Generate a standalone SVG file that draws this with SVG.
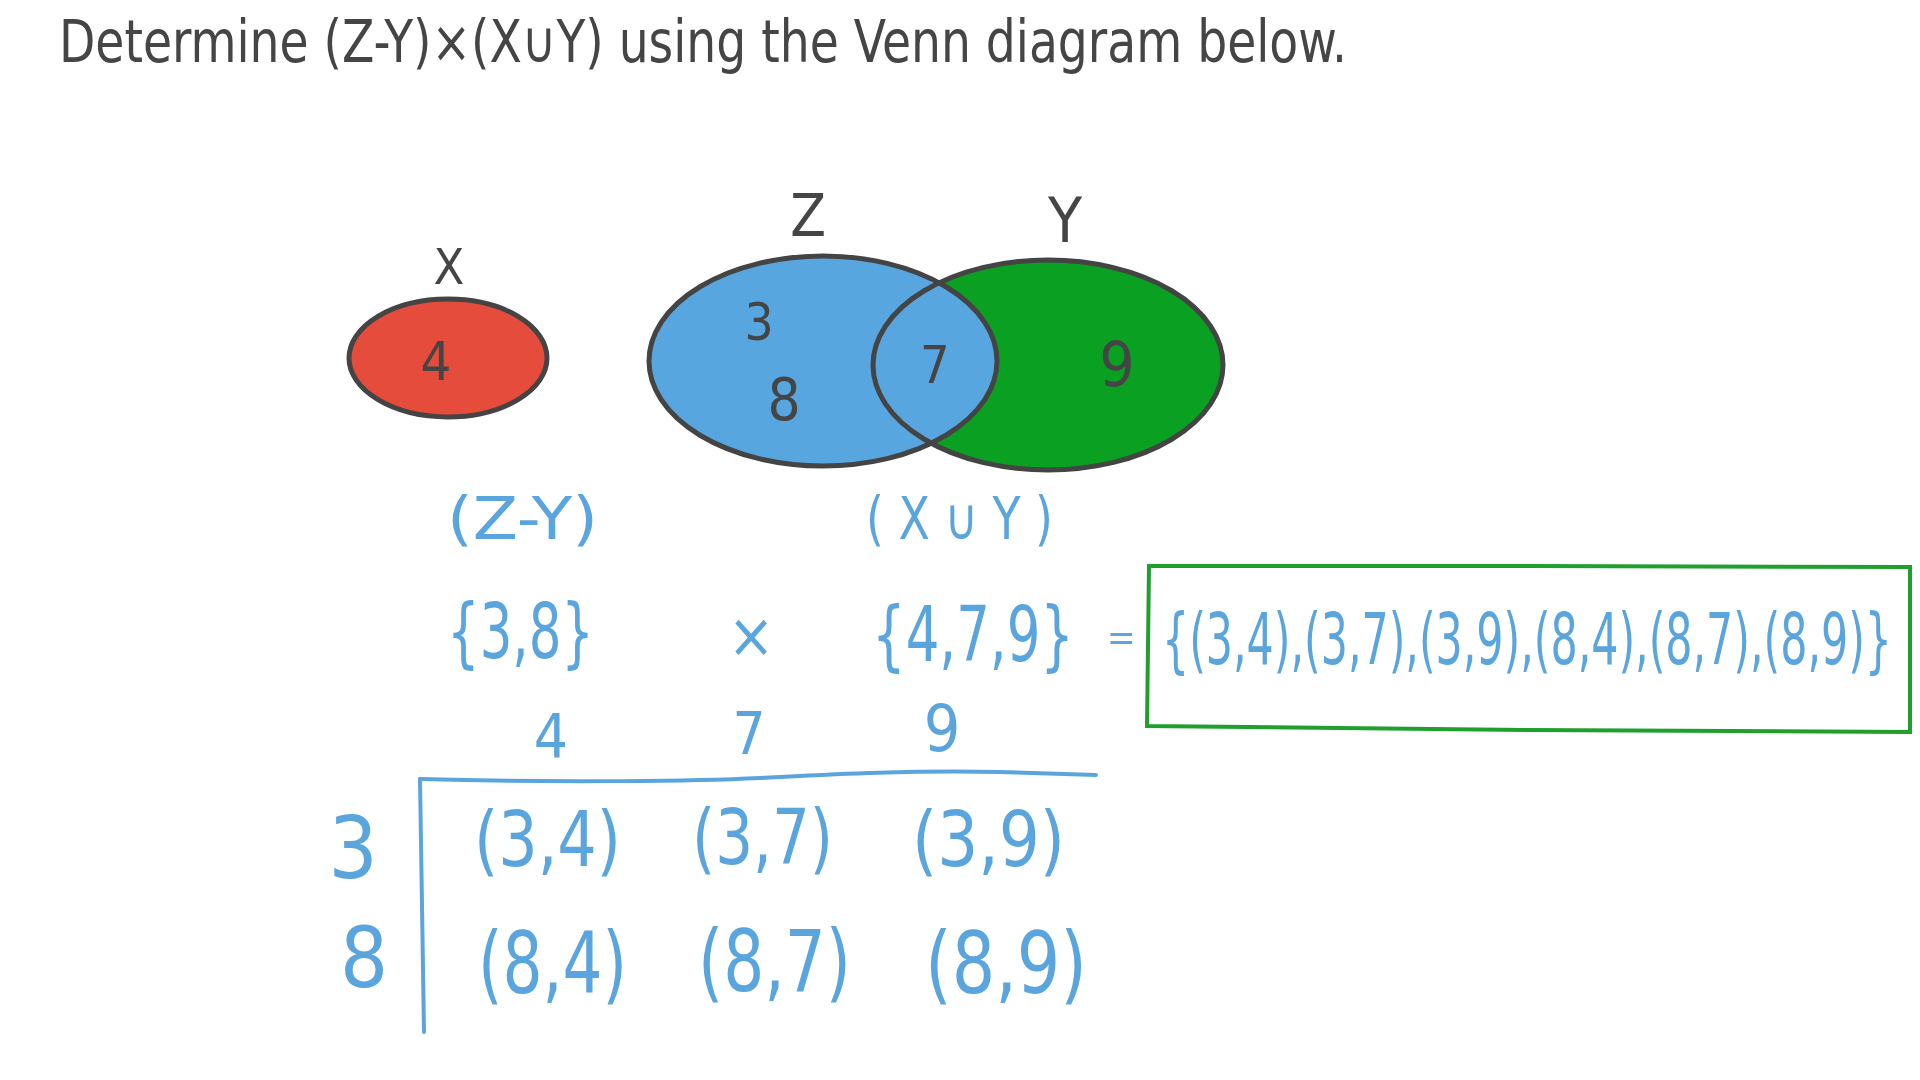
<svg xmlns="http://www.w3.org/2000/svg" width="1920" height="1080" viewBox="0 0 1920 1080">
<style>
text{font-family:"Liberation Sans Narrow","DejaVu Sans Condensed","DejaVu Sans",sans-serif;}
.dark{fill:#454545;}
.blue{fill:#5aa5de;}
.c{text-anchor:middle;}
.outline{fill:none;stroke:#444;stroke-width:5;}
.pen{fill:none;stroke:#5aa5de;stroke-width:4;stroke-linecap:round;}
</style>
<rect width="1920" height="1080" fill="#ffffff"/>
<g id="title">
<text class="dark" x="59" y="62" font-size="58" textLength="1288" lengthAdjust="spacingAndGlyphs">Determine  (Z-Y)×(X∪Y) using the Venn diagram below.</text>
</g>
<g id="venn">
<g id="set-x">
<ellipse cx="448" cy="358" rx="99" ry="59" fill="#e64c3c"/>
<ellipse class="outline" cx="448" cy="358" rx="99" ry="59"/>
<text class="dark c" x="449" y="284" font-size="50">X</text>
<text class="dark c" x="436" y="380" font-size="54">4</text>
</g>
<g id="set-y-fill"><ellipse cx="1048" cy="365" rx="175" ry="105" fill="#0aa122"/></g>
<g id="set-z">
<ellipse cx="823" cy="361" rx="174" ry="105" fill="#58a6e0"/>
<ellipse class="outline" cx="823" cy="361" rx="174" ry="105"/>
<text class="dark c" x="808" y="236" font-size="58">Z</text>
<text class="dark c" x="759" y="340" font-size="51">3</text>
<text class="dark c" x="784" y="420" font-size="58">8</text>
<text class="dark c" x="935" y="383" font-size="52">7</text>
</g>
<g id="set-y">
<ellipse class="outline" cx="1048" cy="365" rx="175" ry="105"/>
<text class="dark c" x="1065" y="242" font-size="62">Y</text>
<text class="dark c" x="1117" y="386" font-size="62">9</text>
</g>
</g>
<g id="work">
<text class="blue" x="447" y="539" font-size="58" textLength="151" lengthAdjust="spacingAndGlyphs">(Z-Y)</text>
<text class="blue" x="866" y="539" font-size="58" textLength="187" lengthAdjust="spacingAndGlyphs">( X ∪ Y )</text>
<text class="blue" x="447" y="658" font-size="76" textLength="147" lengthAdjust="spacingAndGlyphs">{3,8}</text>
<text class="blue c" x="751" y="657" font-size="62">×</text>
<text class="blue" x="872" y="661" font-size="76" textLength="202" lengthAdjust="spacingAndGlyphs">{4,7,9}</text>
<text class="blue c" x="1121" y="650" font-size="38">=</text>
</g>
<g id="answer">
<path d="M1149,566 L1530,566 L1910,567 L1910,732 L1530,730 L1147,726 Z" fill="none" stroke="#1fa02e" stroke-width="4"/>
<text class="blue" x="1162" y="664" font-size="72" textLength="730" lengthAdjust="spacingAndGlyphs">{(3,4),(3,7),(3,9),(8,4),(8,7),(8,9)}</text>
</g>
<g id="table">
<text class="blue c" x="551" y="757" font-size="60">4</text>
<text class="blue c" x="749" y="754" font-size="58">7</text>
<text class="blue c" x="942" y="751" font-size="64">9</text>
<text class="blue c" x="353" y="878" font-size="86">3</text>
<text class="blue c" x="364" y="987" font-size="84">8</text>
<text class="blue" x="474" y="866" font-size="76" textLength="147" lengthAdjust="spacingAndGlyphs">(3,4)</text>
<text class="blue" x="692" y="864" font-size="76" textLength="141" lengthAdjust="spacingAndGlyphs">(3,7)</text>
<text class="blue" x="912" y="866" font-size="76" textLength="153" lengthAdjust="spacingAndGlyphs">(3,9)</text>
<text class="blue" x="478" y="993" font-size="86" textLength="149" lengthAdjust="spacingAndGlyphs">(8,4)</text>
<text class="blue" x="698" y="991" font-size="86" textLength="153" lengthAdjust="spacingAndGlyphs">(8,7)</text>
<text class="blue" x="925" y="993" font-size="86" textLength="162" lengthAdjust="spacingAndGlyphs">(8,9)</text>
</g>
<g id="connectors">
<path class="pen" d="M420,779 C560,783 700,781 760,778 S900,770 1000,772 L1096,775"/>
<path class="pen" d="M420,779 L424,1032"/>
</g>
</svg>
